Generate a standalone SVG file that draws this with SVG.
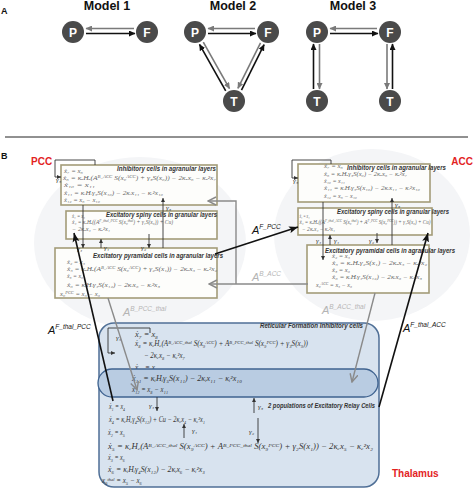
<svg xmlns="http://www.w3.org/2000/svg" width="474" height="490" viewBox="0 0 474 490">
<style>
.ttlA{font-family:"Liberation Sans",Arial,sans-serif;font-weight:bold;font-size:12.5px;fill:#111;text-anchor:middle}
.pl{font-family:"Liberation Sans",Arial,sans-serif;font-weight:bold;font-size:9px;fill:#111}
.nd{fill:#4a4a4a}
.ndt{font-family:"Liberation Sans",Arial,sans-serif;font-weight:bold;font-size:12px;fill:#fff;text-anchor:middle}
.ak{stroke:#111;stroke-width:1.6;fill:none}
.ag{stroke:#7a7a7a;stroke-width:1.6;fill:none}
.reg{font-family:"Liberation Sans",Arial,sans-serif;font-weight:bold;font-size:10px;fill:#e3231f}
.bg{fill:#f4f5f7}
.box{fill:#fdfdfb;stroke:#a39c78;stroke-width:1.6}
.ttl{font-family:"Liberation Sans",Arial,sans-serif;font-weight:bold;font-style:italic;font-size:7px;fill:#333;text-anchor:end}
.eq{font-family:"Liberation Serif","DejaVu Serif",serif;font-style:italic;font-size:5.6px;fill:#666}
.eqt{font-family:"Liberation Serif","DejaVu Serif",serif;font-style:italic;font-size:7.6px;fill:#333}
.su{font-size:65%;baseline-shift:super}
.gam{font-family:"Liberation Serif","DejaVu Serif",serif;font-style:italic;font-size:7px;fill:#333}
.intr{stroke:#333;stroke-width:0.9;fill:none}
.cf{stroke:#111;stroke-width:1.6;fill:none}
.cb{stroke:#8a8a8a;stroke-width:1.4;fill:none}
.lf{font-family:"Liberation Sans",Arial,sans-serif;font-style:italic;fill:#111}
.lb{font-family:"Liberation Sans",Arial,sans-serif;font-style:italic;fill:#b4b4b4}
.thal{fill:#d8e3ef;stroke:#4f6f96;stroke-width:1.5}
.ret{fill:#b9cce2;stroke:#3f6390;stroke-width:1.3}
</style>
<defs>
<marker id="hk" markerUnits="userSpaceOnUse" markerWidth="7" markerHeight="6" refX="6" refY="3" orient="auto"><path d="M0,0 L6.5,3 L0,6 z" fill="#111"/></marker>
<marker id="hg" markerUnits="userSpaceOnUse" markerWidth="7" markerHeight="6" refX="6" refY="3" orient="auto"><path d="M0,0 L6.5,3 L0,6 z" fill="#7a7a7a"/></marker>
<marker id="hb" markerUnits="userSpaceOnUse" markerWidth="10" markerHeight="8" refX="9" refY="4" orient="auto"><path d="M0,0.5 L9,4 L0,7.5 L2,4 z" fill="#111"/></marker>
<marker id="hgo" markerUnits="userSpaceOnUse" markerWidth="10" markerHeight="10" refX="8.5" refY="4.5" orient="auto"><path d="M0.5,0.5 L8.5,4.5 L0.5,8.5" fill="none" stroke="#8a8a8a" stroke-width="1.4"/></marker>
<marker id="hi" markerUnits="userSpaceOnUse" markerWidth="5" markerHeight="4" refX="4" refY="2" orient="auto"><path d="M0,0 L4,2 L0,4 z" fill="#333"/></marker>
</defs>

<!-- Panel A -->
<text class="pl" x="1" y="14">A</text>
<text class="ttlA" x="107" y="10">Model 1</text>
<text class="ttlA" x="233" y="10">Model 2</text>
<text class="ttlA" x="353" y="10">Model 3</text>

<g id="m1-P"><circle class="nd" cx="73" cy="32" r="11"/><text class="ndt" x="73" y="36.5">P</text></g>
<g id="m1-F"><circle class="nd" cx="147" cy="32" r="11"/><text class="ndt" x="147" y="36.5">F</text></g>
<g id="m2-P"><circle class="nd" cx="195" cy="32" r="11"/><text class="ndt" x="195" y="36.5">P</text></g>
<g id="m2-F"><circle class="nd" cx="268" cy="32" r="11"/><text class="ndt" x="268" y="36.5">F</text></g>
<g id="m2-T"><circle class="nd" cx="234" cy="101" r="11"/><text class="ndt" x="234" y="105.5">T</text></g>
<g id="m3-P"><circle class="nd" cx="317" cy="32" r="11"/><text class="ndt" x="317" y="36.5">P</text></g>
<g id="m3-F"><circle class="nd" cx="390" cy="32" r="11"/><text class="ndt" x="390" y="36.5">F</text></g>
<g id="m3-T1"><circle class="nd" cx="317" cy="101" r="11"/><text class="ndt" x="317" y="105.5">T</text></g>
<g id="m3-T2"><circle class="nd" cx="390" cy="101" r="11"/><text class="ndt" x="390" y="105.5">T</text></g>

<g id="connectors-a">
<line class="ag" x1="134" y1="28.5" x2="86" y2="28.5" marker-end="url(#hg)"/>
<line class="ak" x1="86" y1="33.5" x2="135" y2="33.5" marker-end="url(#hk)"/>
<line class="ag" x1="255" y1="28.5" x2="208" y2="28.5" marker-end="url(#hg)"/>
<line class="ak" x1="208" y1="33.5" x2="256" y2="33.5" marker-end="url(#hk)"/>
<line class="ag" x1="203.3" y1="42.2" x2="229.5" y2="88.6" marker-end="url(#hg)"/>
<line class="ak" x1="225.7" y1="90.8" x2="199.5" y2="44.4" marker-end="url(#hk)"/>
<line class="ag" x1="260.5" y1="42.8" x2="237.9" y2="88.4" marker-end="url(#hg)"/>
<line class="ak" x1="241.5" y1="90.2" x2="264.1" y2="44.6" marker-end="url(#hk)"/>
<line class="ag" x1="377" y1="28.5" x2="330" y2="28.5" marker-end="url(#hg)"/>
<line class="ak" x1="330" y1="33.5" x2="378" y2="33.5" marker-end="url(#hk)"/>
<line class="ak" x1="313.5" y1="89" x2="313.5" y2="44" marker-end="url(#hk)"/>
<line class="ag" x1="319.5" y1="44" x2="319.5" y2="89" marker-end="url(#hg)"/>
<line class="ag" x1="387" y1="44" x2="387" y2="89" marker-end="url(#hg)"/>
<line class="ak" x1="392.5" y1="89" x2="392.5" y2="44" marker-end="url(#hk)"/>
</g>

<line x1="5" y1="137" x2="468" y2="137" stroke="#222" stroke-width="1"/>

<!-- Panel B -->
<text class="pl" x="1" y="159">B</text>
<ellipse class="bg" cx="140" cy="243" rx="106" ry="86"/>
<ellipse class="bg" cx="372" cy="235" rx="98" ry="86"/>
<text class="reg" x="31" y="165">PCC</text>
<text class="reg" x="473" y="165" text-anchor="end">ACC</text>

<g id="pcc-inhibitory">
<rect class="box" x="61" y="165" width="156" height="40"/>
<text class="ttl" x="216" y="171" textLength="99" lengthAdjust="spacingAndGlyphs">Inhibitory cells in agranular layers</text>
<text class="eq" x="64" y="172.5" textLength="19" lengthAdjust="spacingAndGlyphs">ẋ₇ = x₈</text>
<text class="eq" x="63" y="179.5" textLength="153" lengthAdjust="spacingAndGlyphs">ẋ₈ = κₑHₑ(A<tspan class="su">B_ACC</tspan> S(x₉<tspan class="su">ACC</tspan>) + γ₃S(x₀)) − 2κₑx₈ − κₑ²x₇</text>
<text class="eq" x="64" y="187" textLength="31" lengthAdjust="spacingAndGlyphs">ẋ₁₀ = x₁₁</text>
<text class="eq" x="64" y="194.5" textLength="99" lengthAdjust="spacingAndGlyphs">ẋ₁₁ = κᵢHᵢγ₅S(x₁₀) − 2κᵢx₁₁ − κᵢ²x₁₀</text>
<text class="eq" x="64" y="202" textLength="36" lengthAdjust="spacingAndGlyphs">ẋ₁₂ = x₈ − x₁₀</text>
</g>

<g id="pcc-spiny">
<rect class="box" x="66" y="211" width="151" height="28"/>
<text class="ttl" x="217" y="216.5" textLength="111" lengthAdjust="spacingAndGlyphs">Excitatory spiny cells in granular layers</text>
<text class="eq" x="72" y="217.5" textLength="13" lengthAdjust="spacingAndGlyphs">ẋ₁ = x₄</text>
<text class="eq" x="72" y="224" textLength="101" lengthAdjust="spacingAndGlyphs">ẋ₄ = κₑHₑ((A<tspan class="su">F_thal_PCC</tspan> S(x₉<tspan class="su">thal</tspan>) + γ₁S(x₉)) + Cu)</text>
<text class="eq" x="72" y="231" textLength="38" lengthAdjust="spacingAndGlyphs">− 2κₑx₄ − κₑ²x₁</text>
</g>

<g id="pcc-pyramidal">
<rect class="box" x="55" y="248" width="162" height="50"/>
<text class="ttl" x="223" y="258" textLength="130" lengthAdjust="spacingAndGlyphs">Excitatory pyramidal cells in agranular layers</text>
<text class="eq" x="67" y="263.5" textLength="18" lengthAdjust="spacingAndGlyphs">ẋ₂ = x₅</text>
<text class="eq" x="67" y="270.5" textLength="150" lengthAdjust="spacingAndGlyphs">ẋ₅ = κₑHₑ(A<tspan class="su">B_ACC</tspan> S(x₉<tspan class="su">ACC</tspan>) + γ₂S(x₁)) − 2κₑx₅ − κₑ²x₂</text>
<text class="eq" x="67" y="278" textLength="16" lengthAdjust="spacingAndGlyphs">ẋ₃ = x₆</text>
<text class="eq" x="67" y="287" textLength="93" lengthAdjust="spacingAndGlyphs">ẋ₆ = κᵢHᵢγ₄S(x₁₂) − 2κᵢx₆ − κᵢ²x₃</text>
<text class="eq" x="60" y="295.5" textLength="40" lengthAdjust="spacingAndGlyphs">x₉<tspan class="su">PCC</tspan> = x₅ − x₆</text>
</g>

<g id="acc-inhibitory">
<rect class="box" x="298" y="164" width="132" height="38"/>
<text class="ttl" x="446" y="170" textLength="99" lengthAdjust="spacingAndGlyphs">Inhibitory cells in agranular layers</text>
<text class="eq" x="324" y="168" textLength="19" lengthAdjust="spacingAndGlyphs">ẋ₇ = x₈</text>
<text class="eq" x="324" y="176" textLength="83" lengthAdjust="spacingAndGlyphs">ẋ₈ = κₑHₑγ₃S(x₀) − 2κₑx₈ − κₑ²x₇</text>
<text class="eq" x="324" y="183" textLength="21" lengthAdjust="spacingAndGlyphs">ẋ₁₀ = x₁₁</text>
<text class="eq" x="324" y="190" textLength="96" lengthAdjust="spacingAndGlyphs">ẋ₁₁ = κᵢHᵢγ₅S(x₁₀) − 2κᵢx₁₁ − κᵢ²x₁₀</text>
<text class="eq" x="324" y="197.5" textLength="33" lengthAdjust="spacingAndGlyphs">ẋ₁₂ = x₈ − x₁₀</text>
</g>

<g id="acc-spiny">
<rect class="box" x="298" y="208" width="134" height="27"/>
<text class="ttl" x="449" y="213.5" textLength="112" lengthAdjust="spacingAndGlyphs">Excitatory spiny cells in granular layers</text>
<text class="eq" x="299.5" y="218" textLength="10" lengthAdjust="spacingAndGlyphs">ẋ₁ = x₄</text>
<text class="eq" x="299.5" y="224" textLength="131" lengthAdjust="spacingAndGlyphs">ẋ₄ = κₑHₑ((A<tspan class="su">F_thal_ACC</tspan> S(x₉<tspan class="su">thal</tspan>) + A<tspan class="su">F_PCC</tspan> S(x₉<tspan class="su">PCC</tspan>)) + γ₁S(x₉) + Cu)</text>
<text class="eq" x="302" y="230.5" textLength="33" lengthAdjust="spacingAndGlyphs">− 2κₑx₄ − κₑ²x₁</text>
</g>

<g id="acc-pyramidal">
<rect class="box" x="307" y="245" width="122" height="48"/>
<text class="ttl" x="455" y="252.5" textLength="130" lengthAdjust="spacingAndGlyphs">Excitatory pyramidal cells in agranular layers</text>
<text class="eq" x="332" y="258" textLength="18" lengthAdjust="spacingAndGlyphs">ẋ₂ = x₅</text>
<text class="eq" x="332" y="265" textLength="95" lengthAdjust="spacingAndGlyphs">ẋ₅ = κₑHₑγ₂S(x₁) − 2κₑx₅ − κₑ²x₂</text>
<text class="eq" x="332" y="272" textLength="18" lengthAdjust="spacingAndGlyphs">ẋ₃ = x₆</text>
<text class="eq" x="332" y="279" textLength="90" lengthAdjust="spacingAndGlyphs">ẋ₆ = κᵢHᵢγ₄S(x₁₂) − 2κᵢx₆ − κᵢ²x₃</text>
<text class="eq" x="316" y="287" textLength="36" lengthAdjust="spacingAndGlyphs">x₉<tspan class="su">ACC</tspan> = x₅ − x₆</text>
</g>

<g id="thalamus">
<rect class="thal" x="99" y="323" width="280" height="164" rx="15"/>
<text class="ttl" x="363" y="327.5" textLength="103" lengthAdjust="spacingAndGlyphs">Reticular Formation Inhibitory cells</text>
<text class="eqt" x="135" y="336.5" textLength="23" lengthAdjust="spacingAndGlyphs">ẋ₇ = x₈</text>
<text class="eqt" x="135" y="346" textLength="173" lengthAdjust="spacingAndGlyphs">ẋ₈ = κₑHₑ(A<tspan class="su">B_ACC_thal</tspan> S(x₉<tspan class="su">ACC</tspan>) + A<tspan class="su">B_PCC_thal</tspan> S(x₉<tspan class="su">PCC</tspan>) + γ₃S(x₉))</text>
<text class="eqt" x="144" y="358" textLength="41" lengthAdjust="spacingAndGlyphs">− 2κₑx₈ − κₑ²x₇</text>
<text class="eqt" x="135" y="369.5" textLength="25" lengthAdjust="spacingAndGlyphs">ẋ₁₀ = x₁₁</text>
</g>

<g id="thalamus-reticular">
<rect class="ret" x="98" y="369" width="280" height="28" rx="14"/>
<text class="eqt" x="132" y="381" textLength="110" lengthAdjust="spacingAndGlyphs">ẋ₁₁ = κᵢHᵢγ₅S(x₁₁) − 2κᵢx₁₁ − κᵢ²x₁₀</text>
<text class="eqt" x="132" y="392" textLength="36" lengthAdjust="spacingAndGlyphs">ẋ₁₂ = x₈ − x₁₁</text>
</g>

<g id="thalamus-relay">
<text class="ttl" x="375" y="408" textLength="107" lengthAdjust="spacingAndGlyphs">2 populations of Excitatory Relay Cells</text>
<text class="eqt" x="109" y="409" textLength="16" lengthAdjust="spacingAndGlyphs">ẋ₁ = x₄</text>
<text class="eqt" x="109" y="422" textLength="96" lengthAdjust="spacingAndGlyphs">ẋ₄ = κₑHₑγ₄S(x₁₂) + Cu − 2κₑx₄ − κₑ²x₁</text>
<text class="eqt" x="108" y="435" textLength="17" lengthAdjust="spacingAndGlyphs">ẋ₂ = x₅</text>
<text class="eqt" x="108" y="448.5" textLength="265" lengthAdjust="spacingAndGlyphs">ẋ₅ = κₑHₑ(A<tspan class="su">B_ACC_thal</tspan> S(x₉<tspan class="su">ACC</tspan>) + A<tspan class="su">B_PCC_thal</tspan> S(x₉<tspan class="su">PCC</tspan>) + γ₂S(x₁)) − 2κₑx₅ − κₑ²x₂</text>
<text class="eqt" x="108" y="460" textLength="17" lengthAdjust="spacingAndGlyphs">ẋ₃ = x₆</text>
<text class="eqt" x="108" y="472" textLength="97" lengthAdjust="spacingAndGlyphs">ẋ₆ = κᵢHᵢγ₄S(x₁₂) − 2κᵢx₆ − κᵢ²x₃</text>
<text class="eqt" x="102" y="483" textLength="40" lengthAdjust="spacingAndGlyphs">x₉<tspan class="su">thal</tspan> = x₅ − x₆</text>
</g>
<text class="reg" x="392" y="477">Thalamus</text>

<g id="connectors-b">
<!-- intrinsic PCC -->
<path class="intr" d="M95,165 V160 H55 V177 H61" marker-end="url(#hi)"/>
<text class="gam" x="56" y="182">γ₅</text>
<line class="intr" x1="83" y1="205" x2="83" y2="248" marker-end="url(#hi)"/>
<text class="gam" x="77" y="251">γ₄</text>
<line class="intr" x1="101" y1="248" x2="101" y2="239" marker-end="url(#hi)"/>
<text class="gam" x="104" y="250">γ₁</text>
<line class="intr" x1="149" y1="234" x2="149" y2="248" marker-end="url(#hi)"/>
<text class="gam" x="141" y="250">γ₂</text>
<line class="intr" x1="163" y1="248" x2="163" y2="198" marker-end="url(#hi)"/>
<text class="gam" x="166" y="210">γ₃</text>
<!-- intrinsic ACC -->
<path class="intr" d="M331,164 V160 H292 V178 H298" marker-end="url(#hi)"/>
<text class="gam" x="293" y="183">γ₅</text>
<line class="intr" x1="323" y1="202" x2="323" y2="260" marker-end="url(#hi)"/>
<text class="gam" x="316" y="243">γ₄</text>
<line class="intr" x1="330" y1="245" x2="330" y2="235" marker-end="url(#hi)"/>
<text class="gam" x="334" y="243">γ₁</text>
<line class="intr" x1="377" y1="233" x2="377" y2="243" marker-end="url(#hi)"/>
<text class="gam" x="369" y="243">γ₂</text>
<line class="intr" x1="392" y1="245" x2="392" y2="198" marker-end="url(#hi)"/>
<text class="gam" x="395" y="207">γ₃</text>
<!-- intrinsic thalamus -->
<path class="intr" d="M150,333 V328 H108 V353 H115" marker-end="url(#hi)"/>
<text class="gam" x="116" y="340">γ₅</text>
<line class="intr" x1="157" y1="397" x2="157" y2="411" marker-end="url(#hi)"/>
<text class="gam" x="149" y="408">γ₄</text>
<line class="intr" x1="184" y1="438" x2="184" y2="424" marker-end="url(#hi)"/>
<text class="gam" x="192" y="433">γ₁</text>
<line class="intr" x1="254" y1="413" x2="254" y2="398" marker-end="url(#hi)"/>
<text class="gam" x="258" y="409">γ₃</text>
<line class="intr" x1="258" y1="418" x2="258" y2="443" marker-end="url(#hi)"/>
<text class="gam" x="249" y="434">γ₂</text>
<!-- extrinsic -->
<path class="cb" d="M308,284 H209" marker-end="url(#hgo)"/>
<path class="cb" d="M236,284 V201 H208" marker-end="url(#hgo)"/>
<line class="cf" x1="215" y1="254" x2="298" y2="227" marker-end="url(#hb)"/>
<line class="cf" x1="113" y1="401" x2="74" y2="233" marker-end="url(#hb)"/>
<line class="cb" x1="108" y1="298" x2="137" y2="390" marker-end="url(#hgo)"/>
<line class="cf" x1="379" y1="407" x2="428" y2="233" marker-end="url(#hb)"/>
<line class="cb" x1="375" y1="293" x2="352" y2="382" marker-end="url(#hgo)"/>
</g>

<g id="labels-b">
<text class="lf" x="252" y="234" font-size="11">A<tspan font-size="6.5" dy="-5">F_PCC</tspan></text>
<text class="lb" x="252" y="281" font-size="11">A<tspan font-size="6.5" dy="-5">B_ACC</tspan></text>
<text class="lb" x="123" y="316" font-size="11">A<tspan font-size="6.5" dy="-5">B_PCC_thal</tspan></text>
<text class="lf" x="48" y="334" font-size="11">A<tspan font-size="6.5" dy="-5">F_thal_PCC</tspan></text>
<text class="lb" x="322" y="314" font-size="11">A<tspan font-size="6.5" dy="-5">B_ACC_thal</tspan></text>
<text class="lf" x="403" y="332" font-size="11">A<tspan font-size="6.5" dy="-5">F_thal_ACC</tspan></text>
</g>
</svg>
